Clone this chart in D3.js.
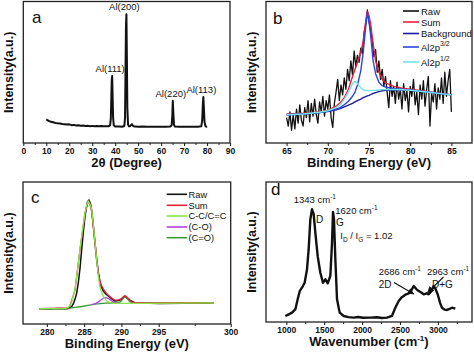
<!DOCTYPE html>
<html><head><meta charset="utf-8">
<script src="https://cdn.jsdelivr.net/npm/d3@7"></script>
<style>
body{margin:0;background:#fff}
svg{display:block}
text{font-family:"Liberation Sans",Arial,Helvetica,sans-serif;fill:#111}
</style>
</head><body>
<svg id="fig" width="474" height="353"></svg>
<script>
// ---------- Panel a : XRD ----------
const xrdTheta = [10,10.5,11,12,13,14,15,16,17,18,19,20,21,22,23,24,25,26,27,28,29,30,31,32,33,34,35,36,37,37.8,38.1,38.3,38.5,38.7,38.9,39.1,39.4,40,41,42,43,44,44.3,44.5,44.7,44.9,45.1,45.3,45.6,46,46.5,47,47.3,47.7,48.2,49,50,52,54,56,58,60,62,64,64.6,64.9,65.1,65.3,65.6,66,68,70,72,74,76,77.5,77.9,78.2,78.4,78.6,78.9,79.3,79.7,80];
const xrdIntensity = [16.7,16.2,15.6,15,14.6,14.2,13.9,13.8,13.4,13.3,13,13.2,12.6,12.8,12.4,12.5,12.2,12.3,12,12.2,11.9,12.1,11.9,12,11.8,12,11.8,11.9,11.8,12.5,17,30,44,47.3,32,18,12.5,11.7,11.6,11.7,11.5,12,18,50,82,91,60,25,13,11.8,11.9,12.8,13.3,12.2,11.7,11.6,11.5,11.6,11.4,11.5,11.4,11.5,11.4,11.6,12.5,20,29.9,22,13,11.7,11.5,11.4,11.5,11.4,11.5,11.8,16,28,32.5,26,15,12,11.5,11.8];
const xrdPeakNames = ["Al(111)","Al(200)","Al(220)","Al(113)"];
const xrdPeakTheta = [38.7,44.9,65.1,78.4];
const xrdPeakHeight = [47.3,91,29.9,32.5];
const xrdTicks = [0,10,20,30,40,50,60,70,80,90];
const xrdMinor = [5,15,25,35,45,55,65,75,85];

// ---------- Panel b : Al2p XPS ----------
const alEnergyRaw = [];
for (let i = 0; i <= 100; i++) alEnergyRaw.push(+(65 + i*0.2).toFixed(1));
const alRaw = [18,12,22,9,20,10,24,14,27,16,12,25,18,30,15,28,19,31,20,14,29,22,33,19,30,24,34,18,11,28,36,45,30,41,34,46,38,52,44,58,48,65,54,62,57,67,63,78,84,94,86,80,72,61,66,50,58,45,52,40,47,36,25,44,33,40,28,43,31,38,24,42,30,37,22,40,33,45,27,36,20,41,31,44,26,38,47,12,35,29,42,24,39,31,46,28,50,33,44,52,22];
const alEnergyFit = [65,67,69,70,71,71.5,72,72.5,73,73.3,73.6,74,74.3,74.6,74.8,75,75.2,75.5,75.8,76.2,76.6,77,78,79,80,82,85];
const alSum  = [20.5,21,22,23,26,28.5,32,38,47,52,57,64,72,86,93,90,84,70,58,50,45,42.5,40,38.8,38,36.5,34.2];
const alBackground = [20,20.5,21.5,22.2,23.5,24.3,25.5,26.7,28,29,30,31,32,32.8,33.3,33.7,34.2,35,35.6,36.3,36.9,37.3,37.6,37.5,37.2,36,34];
const al2p32 = [20,20.5,21.5,22.5,24,25,27,29.5,33,36,41,51,64,82,92,86,76,58,49,43,40.5,39.5,38.5,38,37.5,36,34];
const al2p12 = [20,20.5,21.7,22.8,25,27,31,36,42,43.5,42,39,37.5,37,37,37,37,37.2,37.3,37.5,37.7,37.8,37.8,37.6,37.3,36,34];
const alTicks = [65,70,75,80,85];
const alMinor = [67.5,72.5,77.5,82.5];

// ---------- Panel c : C1s XPS ----------
const c1sRaw = [[279.0,10.9],[280.5,10.8],[281.5,11],[282.66,10.9],[283.0,11.3],[283.33,12.4],[283.55,14.5],[283.77,17.6],[284.0,22],[284.22,29.5],[284.45,40],[284.67,53.3],[284.9,66],[285.12,77],[285.42,86.7],[285.65,88.6],[285.88,85.5],[286.05,79],[286.23,70],[286.45,58],[286.68,46],[286.9,37],[287.13,29.5],[287.35,26],[287.57,23.6],[287.9,21.5],[288.24,20],[288.7,18],[289.14,16.4],[289.5,16.6],[289.81,17.1],[290.15,18.3],[290.48,19.5],[290.8,18.5],[291.15,17.1],[291.5,16],[291.82,15.2],[292.5,15],[293.83,14.8],[295,14.7],[296.7,14.8],[297.5,15],[298.8,15.2]];
const c1sSum = [[279,10.9],[283,11.5],[283.77,24],[284.44,53],[285.12,79.5],[285.56,88],[286.01,82],[286.46,58.5],[286.9,36],[287.2,29],[287.57,25],[287.93,22.3],[288.24,20.5],[288.7,18.5],[289.14,17],[289.5,17],[289.9,17.8],[290.2,19.2],[290.48,20.3],[290.8,19],[291.1,17],[291.5,15.5],[293,15],[296,15],[298.8,15.2]];
const c1sCC = [[279,10.9],[282.5,11.2],[282.9,12],[283.3,15],[283.77,24.8],[284.1,38],[284.44,53.3],[284.8,68],[285.12,79.5],[285.35,85],[285.56,87.9],[285.8,85.5],[286.01,81.9],[286.25,70],[286.46,58],[286.7,45],[286.9,34.3],[287.1,27],[287.35,22.4],[287.7,18.5],[288.03,16.4],[288.5,15.2],[288.9,14.8],[290,14.8],[293,14.8],[296,14.9],[298.8,15.1]];
const c1sCO = [[286.0,13.8],[286.5,14.6],[286.9,15.8],[287.3,17.3],[287.6,18.4],[287.93,18.8],[288.3,18.2],[288.7,16.5],[289.1,15.2],[289.5,14.9]];
const c1sCdO = [[279,10.9],[282.7,11],[283.8,11.8],[284.7,12.5],[285.7,13.5],[286.5,14.2],[287.5,14.7],[288,14.9],[289.5,15],[289.9,16],[290.2,18],[290.48,19.5],[290.8,18],[291.1,16],[291.5,15],[293,14.9],[296,15],[298.8,15.1]];
const c1sTicks = [280,285,290,295,300];
const c1sMinor = [282.5,287.5,292.5,297.5];

// ---------- Panel d : Raman ----------
const ramanShift = [987,1032,1075,1119,1150,1177,1207,1242,1273,1295,1317,1339,1361,1383,1414,1449,1484,1515,1546,1581,1603,1616,1629,1647,1669,1704,1757,1820,1889,1950,2010,2108,2200,2260,2328,2394,2438,2483,2520,2549,2580,2615,2650,2681,2715,2747,2780,2813,2850,2879,2915,2944,2970,2997,3030,3054,3090,3120,3155,3186,3230];
const ramanIntensity = [4.3,5.5,6.7,9,16.2,22,24.5,28,37.6,52,73.3,80.5,77,63.8,47,35.2,28,30.5,27.6,32.9,56.6,78.6,73.3,44.8,16.2,6.7,4.3,3.5,3.1,3.6,3.0,3.1,3.4,2.9,3.1,4.3,10.2,15,17.5,18.6,19.8,20.5,22.5,25.7,23.5,22.1,21,19.8,20.5,19.8,22,25.7,23.5,19.8,13.5,10.2,8.8,8.6,9.4,10.2,9.5];
const ramanTicks = [1000,1500,2000,2500,3000];
const ramanMinor = [1250,1750,2250,2750,3250];

// ---------- drawing ----------
const svg = d3.select("#fig");
const FONT = '"Liberation Sans",Arial,Helvetica,sans-serif';

function panel(box, xScale, ticks, minor, xTitleParts, letter, letterPos) {
  const g = svg.append("g");
  const y = d3.scaleLinear().domain([0,100]).range([box.bottom, box.top]);
  g.append("g").attr("transform", `translate(0,${box.bottom})`)
    .call(d3.axisBottom(xScale).tickValues(minor).tickSize(2).tickFormat(""))
    .call(s => s.select(".domain").remove())
    .selectAll("line").attr("stroke","#222").attr("stroke-width",1);
  const ax = g.append("g").attr("transform", `translate(0,${box.bottom})`)
    .call(d3.axisBottom(xScale).tickValues(ticks).tickSize(3).tickPadding(2).tickFormat(d3.format("d")));
  ax.select(".domain").remove();
  ax.selectAll("line").attr("stroke","#222").attr("stroke-width",1.1);
  ax.selectAll("text").attr("font-family",FONT).attr("font-weight","bold").attr("font-size",8.5).attr("fill","#111");
  g.append("rect").attr("x",box.left).attr("y",box.top)
    .attr("width",box.right-box.left).attr("height",box.bottom-box.top)
    .attr("fill","none").attr("stroke","#222").attr("stroke-width",1.3);
  g.append("text").attr("transform",`translate(${box.left-10},${(box.top+box.bottom)/2}) rotate(-90)`)
    .attr("text-anchor","middle").attr("font-weight","bold").attr("font-size",12.5)
    .text("Intensity(a.u.)");
  const t = g.append("text").attr("x",(box.left+box.right)/2).attr("y",box.bottom+24)
    .attr("text-anchor","middle").attr("font-weight","bold").attr("font-size",13);
  xTitleParts.forEach(p => {
    const ts = t.append("tspan").text(p.t);
    if (p.sup) ts.attr("font-size",8).attr("dy",-5);
    if (p.after) ts.attr("dy",5);
  });
  g.append("text").attr("x",letterPos[0]).attr("y",letterPos[1]).attr("font-size",17).text(letter);
  return {g, y};
}

function drawLine(g, data, xs, ys, color, w) {
  g.append("path").datum(data)
    .attr("fill","none").attr("stroke",color).attr("stroke-width",w)
    .attr("stroke-linejoin","round")
    .attr("d", d3.line().x(d=>xs(d[0])).y(d=>ys(d[1])));
}

// Panel a
const boxA = {left:23.3, right:230, top:1.5, bottom:143};
const xA = d3.scaleLinear().domain([0,90]).range([boxA.left, boxA.right]);
const pA = panel(boxA, xA, xrdTicks, xrdMinor, [{t:"2θ (Degree)"}], "a", [32, 23]);
drawLine(pA.g, d3.zip(xrdTheta, xrdIntensity), xA, pA.y, "#111", 2);
xrdPeakNames.forEach((n,i) => {
  pA.g.append("text").attr("x", xA(xrdPeakTheta[i]) - 2).attr("y", pA.y(xrdPeakHeight[i]) - 4)
    .attr("text-anchor","middle").attr("font-size",9.5).text(n);
});

// Panel b
const boxB = {left:266, right:472, top:1.5, bottom:143};
const xB = d3.scaleLinear().domain([62.5,87.5]).range([boxB.left, boxB.right]);
const pB = panel(boxB, xB, alTicks, alMinor, [{t:"Binding Energy (eV)"}], "b", [273, 24]);
drawLine(pB.g, d3.zip(alEnergyRaw, alRaw), xB, pB.y, "#111", 1.3);
drawLine(pB.g, d3.zip(alEnergyFit, alSum), xB, pB.y, "#e8203a", 1.4);
drawLine(pB.g, d3.zip(alEnergyFit, alBackground), xB, pB.y, "#1c1ca0", 1.4);
drawLine(pB.g, d3.zip(alEnergyFit, al2p32), xB, pB.y, "#2b46e0", 1.4);
drawLine(pB.g, d3.zip(alEnergyFit, al2p12), xB, pB.y, "#6fe6e6", 1.4);
const legB = [["Raw","#111",null],["Sum","#e8203a",null],["Background","#1c1ca0",null],["Al2p","#2b46e0","3/2"],["Al2p","#6fe6e6","1/2"]];
const legBY = [11, 22, 33.5, 47, 62];
legB.forEach((l,i) => {
  pB.g.append("line").attr("x1",403).attr("x2",419).attr("y1",legBY[i]).attr("y2",legBY[i])
    .attr("stroke",l[1]).attr("stroke-width",1.6);
  const t = pB.g.append("text").attr("x",421).attr("y",legBY[i]+3.5).attr("font-size",9.5).text(l[0]);
  if (l[2]) t.append("tspan").attr("font-size",7).attr("dy",-4.5).text(l[2]);
});

// Panel c
const boxC = {left:23, right:230.7, top:182, bottom:324};
const xC = d3.scaleLinear().domain([276.8,295,300]).range([boxC.left,158.7,boxC.right]);
const pC = panel(boxC, xC, c1sTicks, c1sMinor, [{t:"Binding Energy (eV)"}], "c", [31, 203]);
pC.y.range([324,184]);
drawLine(pC.g, c1sRaw, xC, pC.y, "#111", 1.5);
drawLine(pC.g, c1sCdO, xC, pC.y, "#3a9a3a", 1.3);
drawLine(pC.g, c1sSum, xC, pC.y, "#e8203a", 1.3);
drawLine(pC.g, c1sCO, xC, pC.y, "#b044e8", 1.3);
drawLine(pC.g, c1sCC, xC, pC.y, "#86e84a", 1.3);
const legC = [["Raw","#111"],["Sum","#e8203a"],["C-C/C=C","#86e84a"],["(C-O)","#b044e8"],["(C=O)","#3a9a3a"]];
const legCY = [194.3, 205.3, 216, 227, 237.7];
legC.forEach((l,i) => {
  pC.g.append("line").attr("x1",166.7).attr("x2",187).attr("y1",legCY[i]).attr("y2",legCY[i])
    .attr("stroke",l[1]).attr("stroke-width",1.6);
  pC.g.append("text").attr("x",188.5).attr("y",legCY[i]+3.3).attr("font-size",9.3).text(l[0]);
});

// Panel d
const boxD = {left:266, right:472, top:182, bottom:322};
const xD = d3.scaleLinear().domain([732,3450]).range([boxD.left, boxD.right]);
const pD = panel(boxD, xD, ramanTicks, ramanMinor, [{t:"Wavenumber (cm"},{t:"-1",sup:true},{t:")",after:true}], "d", [271, 195]);
drawLine(pD.g, d3.zip(ramanShift, ramanIntensity), xD, pD.y, "#111", 2.4);

function supText(g, x, y, main, sup) {
  const t = g.append("text").attr("x",x).attr("y",y).attr("font-size",9.5).text(main);
  t.append("tspan").attr("font-size",6.5).attr("dy",-4).text(sup);
  return t;
}
supText(pD.g, 293.7, 202.7, "1343 cm", "-1");
pD.g.append("text").attr("x",316).attr("y",223).attr("font-size",10).text("D");
supText(pD.g, 335.3, 214.3, "1620 cm", "-1");
pD.g.append("text").attr("x",336).attr("y",226).attr("font-size",10).text("G");
const idg = pD.g.append("text").attr("x",340.3).attr("y",239.3).attr("font-size",9.5);
idg.append("tspan").text("I");
idg.append("tspan").attr("font-size",6.5).attr("dy",2.5).text("D");
idg.append("tspan").attr("dy",-2.5).text(" / I");
idg.append("tspan").attr("font-size",6.5).attr("dy",2.5).text("G");
idg.append("tspan").attr("dy",-2.5).text(" = 1.02");
supText(pD.g, 378.7, 275, "2686 cm", "-1");
pD.g.append("text").attr("x",378.7).attr("y",287.5).attr("font-size",10).text("2D");
supText(pD.g, 427, 275, "2963 cm", "-1");
pD.g.append("text").attr("x",432).attr("y",287.5).attr("font-size",10).text("D+G");

svg.append("defs").append("marker").attr("id","arr").attr("viewBox","0 0 10 10")
  .attr("refX",9).attr("refY",5).attr("markerWidth",6).attr("markerHeight",6).attr("orient","auto")
  .append("path").attr("d","M0,0 L10,5 L0,10 z").attr("fill","#111");
const arrowTargets = [2681, 2944];
pD.g.append("line").attr("x1",394).attr("y1",282.5).attr("x2",xD(arrowTargets[0])).attr("y2",294)
  .attr("stroke","#111").attr("stroke-width",1.1).attr("marker-end","url(#arr)");
pD.g.append("line").attr("x1",443.5).attr("y1",277).attr("x2",xD(arrowTargets[1])-6).attr("y2",292.5)
  .attr("stroke","#111").attr("stroke-width",1.1).attr("marker-end","url(#arr)");
</script>
</body></html>
